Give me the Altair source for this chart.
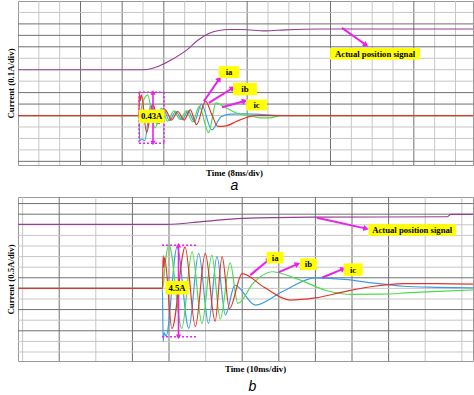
import math
import altair as alt
import pandas as pd

RED = "#e3342a"
GREEN = "#4cdc4c"
BLUE = "#3d9de2"
PURPLE = "#933d93"
MAG = "#ec1fec"
YEL = "#ffff00"
GRID_L = "#c6c6c6"
GRID_D = "#707070"
SERIF = "Liberation Serif"

# ---------------- panel a (units: divisions) ----------------
a_xdom = [0, 21.84]
a_ydom = [-4.32, 10]
a_vgrid_light = [1, 2, 4, 6, 8, 9, 10, 12, 13, 14, 16, 17, 18, 20, 21]
a_vgrid_dark = [3, 5, 7, 11, 15, 19]
a_hgrid_light = [9, 5, 4, 3, 0, -1, -2, -3]
a_hgrid_dark = [8, 7, 6, 2, 1, -4]

a_pos_t = [0, 6.03, 6.75, 7.39, 8.03, 8.68, 9.16, 9.64, 10.12, 10.75, 11.87, 12.83, 14.44, 15.55, 21.84]
a_pos_v = [4.0, 4.0, 4.31, 4.89, 5.62, 6.64, 7.16, 7.42, 7.51, 7.51, 7.39, 7.48, 7.56, 7.56, 7.56]

a_ic_t = [0, 5.81, 5.84, 5.95, 6.08, 6.37, 6.67, 6.97, 7.27, 7.57, 7.87, 8.17, 8.47, 8.8, 9.3, 9.75, 10.2, 10.9, 11.6, 12.6, 21.84]
a_ic_v = [0, 0, -2.2, -2.05, -2.2, 0.9, -0.75, 0.6, -0.45, 0.35, -0.35, 0.4, -0.55, 1.0, -1.25, -0.1, 0.12, 0.15, 0.1, 0, 0]

a_ib_t = [0, 5.82, 6.0, 6.22, 6.58, 6.88, 7.18, 7.48, 7.78, 8.08, 8.38, 8.7, 9.15, 9.5, 9.9, 10.5, 11.1, 11.6, 12.1, 12.6, 21.84]
a_ib_v = [0, 0, 1.2, 1.8, -1.1, 0.65, -0.5, 0.4, -0.35, 0.4, -0.55, 0.8, -1.5, 1.1, 0.75, 0.2, 0, -0.2, -0.2, 0, 0]

a_ia_t = [0, 5.80, 5.83, 5.88, 5.93, 6.17, 6.47, 6.77, 7.07, 7.37, 7.67, 7.97, 8.27, 8.57, 9.0, 9.3, 9.6, 10.0, 10.5, 11.0, 11.4, 21.84]
a_ia_v = [0, 0, 1.9, 1.3, 1.8, -1.5, 1.0, -0.7, 0.5, -0.4, 0.35, -0.4, 0.5, -0.8, 1.25, 0.1, -0.95, -0.9, -0.5, -0.15, 0, 0]

# label boxes: x1, x2, y1, y2, text
a_boxes = [
    (14.98, 19.3, 5.9, 4.89, "Actual position signal"),
    (9.64, 10.62, 4.31, 3.28, "ia"),
    (10.32, 11.47, 2.85, 1.77, "ib"),
    (10.95, 11.95, 1.4, 0.44, "ic"),
    (5.79, 7.04, 0.52, -0.65, "0.43A"),
]
# arrows: x1, y1, x2, y2 (head at x2, y2)
a_arrows = [
    (15.55, 7.65, 16.67, 6.2),
    (8.92, 1.25, 9.64, 3.14),
    (9.16, 1.1, 10.27, 2.36),
    (9.79, 0.72, 10.84, 1.25),
]
a_double = (6.48, 1.95, -2.33)
a_dots = [
    (5.81, 2.03, 7.01, 2.03),
    (5.81, -2.42, 7.01, -2.42),
    (5.81, 2.03, 5.81, -2.42),
    (7.01, 2.03, 7.01, -2.42),
]

# ---------------- panel b ----------------
b_xdom = [-0.126, 12.306]
b_ydom = [-6.85, 8.62]
b_vgrid_light = [0, 2, 5, 11, 12]
b_vgrid_dark = [1, 3, 4, 6, 7, 8, 9, 10]
b_hgrid_light = [6, 5, 4, 3, 2, 0, -1, -3, -5, -6]
b_hgrid_dark = [8, 7, 1, -2, -4]

b_pos_t = [-0.126, 3.94, 4.9, 6.0, 7.9, 11.6, 11.7, 12.306]
b_pos_v = [6.04, 6.04, 6.3, 6.6, 6.72, 6.75, 6.98, 6.98]

b_ic_t = [-0.126, 3.82, 3.84, 3.87, 3.92, 4.22, 4.54, 4.81, 5.08, 5.31, 5.54, 5.8, 6.36, 7.1, 7.99, 8.8, 9.6, 10.4, 11.3, 12.306]
b_ic_v = [0, 0, -5.0, -4.2, -4.5, 3.9, -3.77, 3.3, -3.3, 3.0, -2.5, 0.3, -1.58, -0.3, 1.0, 0.85, 0.5, 0.2, 0.1, 0.05]

b_ib_t = [-0.126, 3.83, 3.9, 4.0, 4.35, 4.63, 4.9, 5.17, 5.4, 5.67, 5.88, 6.3, 6.81, 7.5, 8.3, 9.0, 9.8, 10.6, 11.5, 12.306]
b_ib_v = [0, 0, 2.5, 4.08, -3.77, 3.45, -3.3, 3.14, -2.9, 2.4, -1.42, 0.5, 1.57, 0.9, -0.2, -0.57, -0.55, -0.4, -0.25, -0.15]

b_ia_t = [-0.126, 3.82, 3.84, 3.86, 3.88, 4.08, 4.44, 4.72, 4.99, 5.26, 5.45, 5.65, 6.0, 6.6, 7.3, 8.0, 8.8, 9.6, 10.4, 11.3, 12.306]
b_ia_v = [0, 0, 3.1, 2.0, 2.9, -3.8, 3.9, -3.6, 3.3, -3.1, 3.0, -1.9, 1.4, 0.1, -1.1, -0.9, -0.3, 0.2, 0.45, 0.45, 0.4]

b_boxes = [
    (9.45, 11.84, 6.04, 4.96, "Actual position signal"),
    (6.67, 7.13, 3.45, 2.36, "ia"),
    (7.58, 8.04, 2.83, 1.73, "ib"),
    (8.77, 9.29, 2.36, 1.19, "ic"),
    (3.9, 4.54, 0.69, -0.57, "4.5A"),
]
b_arrows = [
    (8.04, 6.66, 9.36, 5.66),
    (6.22, 1.25, 6.72, 2.67),
    (6.99, 1.51, 7.49, 2.26),
    (8.18, 1.0, 8.74, 1.82),
]
b_double = (4.26, 4.0, -4.5)
b_dots = [
    (3.81, 4.08, 4.76, 4.08),
    (3.81, -4.57, 4.76, -4.57),
]

W, H = 455, 164


def panel(xdom, ydom, vl, vd, hl, hd, pos_t, pos_v, series, boxes, arrows, dbl, dots,
          xtitle, ytitle, xtitle_x, letter, letter_dx, letter_offset):
    pxx = W / (xdom[1] - xdom[0])
    pxy = H / (ydom[1] - ydom[0])
    xs = alt.Scale(domain=xdom, nice=False, zero=False)
    ys = alt.Scale(domain=ydom, nice=False, zero=False)
    xax = alt.Axis(title=xtitle, labels=False, ticks=False, domain=False, grid=False,
                   titleX=xtitle_x, titlePadding=3)
    yax = alt.Axis(title=ytitle, labels=False, ticks=False, domain=False, grid=False,
                   titlePadding=3)

    def X(f):
        return alt.X(f, type="quantitative", scale=xs, axis=xax)

    def Y(f):
        return alt.Y(f, type="quantitative", scale=ys, axis=yax)

    layers = []
    for vals, col in ((vl, GRID_L), (vd, GRID_D)):
        layers.append(alt.Chart(pd.DataFrame({"gx": vals})).mark_rule(color=col, strokeWidth=1)
                      .encode(x=X("gx")))
    for vals, col in ((hl, GRID_L), (hd, GRID_D)):
        layers.append(alt.Chart(pd.DataFrame({"gy": vals})).mark_rule(color=col, strokeWidth=1)
                      .encode(y=Y("gy")))
    layers.append(alt.Chart(pd.DataFrame({"t": pos_t, "v": pos_v}))
                  .mark_line(color=PURPLE, strokeWidth=1.1, interpolate="monotone", clip=True)
                  .encode(x=X("t"), y=Y("v")))
    for t, v, col in series:
        layers.append(alt.Chart(pd.DataFrame({"t": t, "v": v}))
                      .mark_line(color=col, strokeWidth=1.2, interpolate="monotone", clip=True)
                      .encode(x=X("t"), y=Y("v")))
    # dotted guide lines
    dd = pd.DataFrame(dots, columns=["x1", "y1", "x2", "y2"])
    layers.append(alt.Chart(dd).mark_rule(color=MAG, strokeWidth=1.5, strokeDash=[2, 2])
                  .encode(x=X("x1"), y=Y("y1"), x2="x2", y2="y2"))
    # double arrow
    dx, dtop, dbot = dbl
    dbd = pd.DataFrame({"x": [dx], "y1": [dtop], "y2": [dbot]})
    layers.append(alt.Chart(dbd).mark_rule(color=MAG, strokeWidth=1.6)
                  .encode(x=X("x"), y=Y("y1"), y2="y2"))
    hd_df = pd.DataFrame({"x": [dx, dx], "y": [dtop, dbot], "ang": [0, 180]})
    layers.append(alt.Chart(hd_df).mark_point(shape="triangle", filled=True, size=28, color=MAG, opacity=1)
                  .encode(x=X("x"), y=Y("y"), angle=alt.Angle("ang:Q", scale=None)))
    # pointer arrows
    ad = pd.DataFrame(arrows, columns=["x1", "y1", "x2", "y2"])
    ad["ang"] = [math.degrees(math.atan2((r.x2 - r.x1) * pxx, (r.y2 - r.y1) * pxy)) % 360
                 for r in ad.itertuples()]
    layers.append(alt.Chart(ad).mark_rule(color=MAG, strokeWidth=2)
                  .encode(x=X("x1"), y=Y("y1"), x2="x2", y2="y2"))
    layers.append(alt.Chart(ad).mark_point(shape="triangle", filled=True, size=40, color=MAG, opacity=1)
                  .encode(x=X("x2"), y=Y("y2"), angle=alt.Angle("ang:Q", scale=None)))
    # yellow label boxes
    bd = pd.DataFrame(boxes, columns=["x1", "x2", "y1", "y2", "label"])
    bd["cx"] = (bd.x1 + bd.x2) / 2
    bd["cy"] = (bd.y1 + bd.y2) / 2
    layers.append(alt.Chart(bd).mark_rect(fill=YEL)
                  .encode(x=X("x1"), x2="x2", y=Y("y1"), y2="y2"))
    layers.append(alt.Chart(bd).mark_text(font=SERIF, fontWeight="bold", fontSize=8.7, color="black",
                                          baseline="middle", align="center")
                  .encode(x=X("cx"), y=Y("cy"), text="label:N"))
    return alt.layer(*layers).properties(
        width=W, height=H,
        title=alt.TitleParams(letter, orient="bottom", dx=letter_dx, offset=letter_offset),
    )


pa = panel(a_xdom, a_ydom, a_vgrid_light, a_vgrid_dark, a_hgrid_light, a_hgrid_dark,
           a_pos_t, a_pos_v,
           [(a_ic_t, a_ic_v, BLUE), (a_ib_t, a_ib_v, GREEN), (a_ia_t, a_ia_v, RED)],
           a_boxes, a_arrows, a_double, a_dots,
           "Time (8ms/div)", "Current (0.1A/div)", 216, "a", -11, 2)
pb = panel(b_xdom, b_ydom, b_vgrid_light, b_vgrid_dark, b_hgrid_light, b_hgrid_dark,
           b_pos_t, b_pos_v,
           [(b_ic_t, b_ic_v, BLUE), (b_ib_t, b_ib_v, GREEN), (b_ia_t, b_ia_v, RED)],
           b_boxes, b_arrows, b_double, b_dots,
           "Time (10ms/div)", "Current (0.5A/div)", 237, "b", 7, 7)

chart = (
    alt.vconcat(pa, pb, spacing=2)
    .properties(padding={"left": 5, "top": 0, "right": 0, "bottom": 0}, background="white")
    .configure_view(stroke="#9a9a9a", strokeWidth=1)
    .configure_axis(titleFont=SERIF, titleFontSize=8.8, titleFontWeight="bold", titleColor="black")
    .configure_title(font="Liberation Sans", fontSize=14, fontStyle="italic", fontWeight="normal",
                     color="black")
)

chart.save("out.html", embed_options={"renderer": "svg", "actions": False})
